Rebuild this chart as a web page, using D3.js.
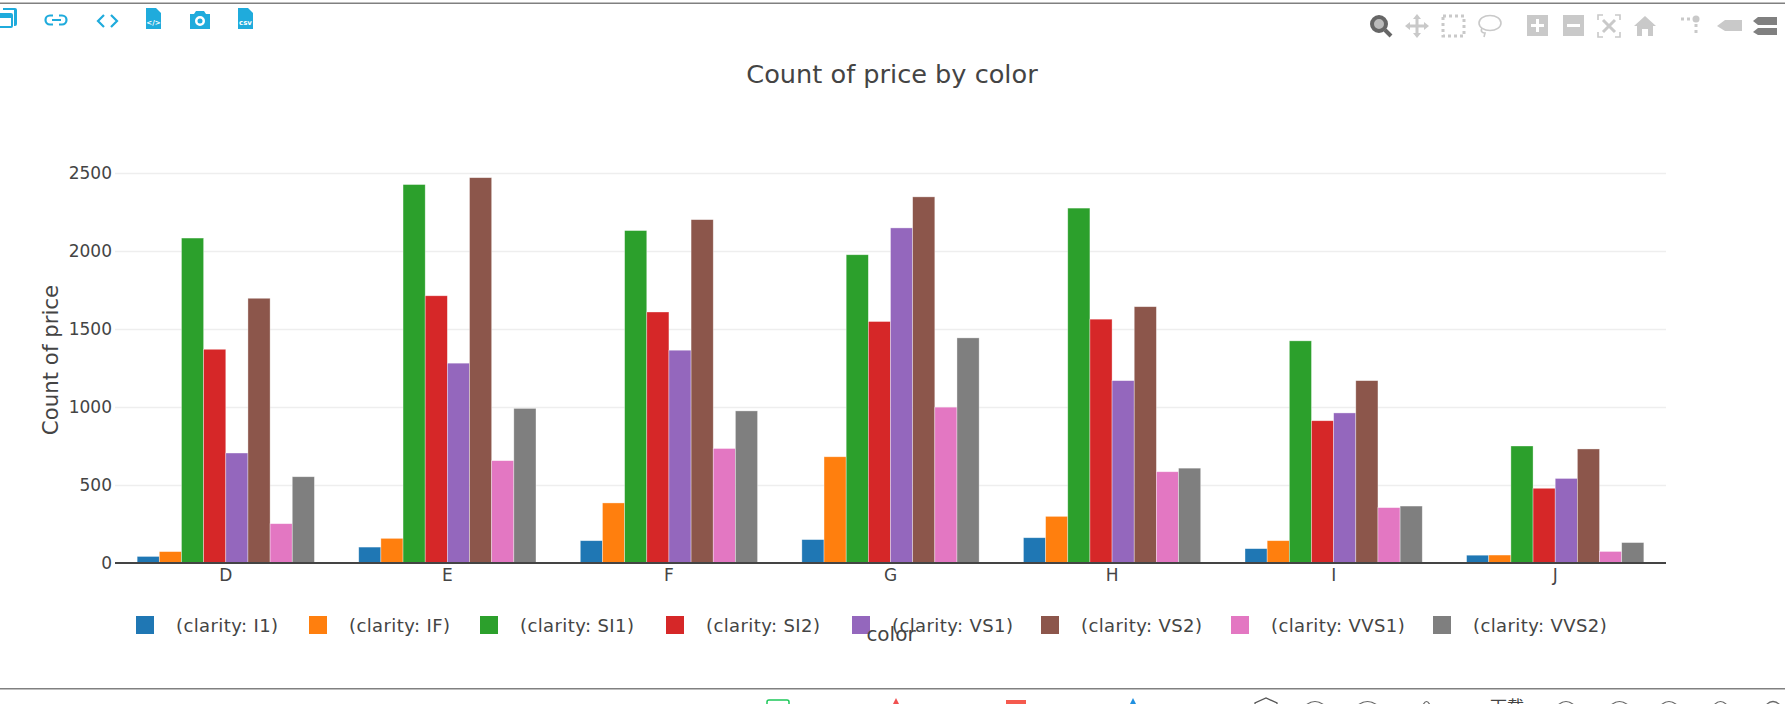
<!DOCTYPE html>
<html>
<head>
<meta charset="utf-8">
<script src="https://cdn.jsdelivr.net/npm/d3@7"></script>
<style>
    html, body { margin: 0; padding: 0; background: #fff; overflow: hidden; }
    text { font-family: "DejaVu Sans", Verdana, sans-serif; fill: #444; }
    .grid line { stroke: #eee; stroke-width: 1.3; }
    .grid path, .x-axis path { display: none; }
    .x-axis line { display: none; }
</style>
</head>
<body>
<svg id="chart" width="1785" height="704"></svg>
<script>
const colors = ['D', 'E', 'F', 'G', 'H', 'I', 'J'];
const clarities = ['I1', 'IF', 'SI1', 'SI2', 'VS1', 'VS2', 'VVS1', 'VVS2'];
const I1 = [42, 102, 143, 150, 162, 92, 50];
const IF = [73, 158, 385, 681, 299, 143, 51];
const SI1 = [2083, 2426, 2131, 1976, 2275, 1424, 750];
const SI2 = [1370, 1713, 1609, 1548, 1563, 912, 479];
const VS1 = [705, 1281, 1364, 2148, 1169, 962, 542];
const VS2 = [1697, 2470, 2201, 2347, 1643, 1169, 731];
const VVS1 = [252, 656, 734, 999, 585, 355, 74];
const VVS2 = [553, 991, 975, 1443, 608, 365, 131];
const yTicks = [0, 500, 1000, 1500, 2000, 2500];

const series = [I1, IF, SI1, SI2, VS1, VS2, VVS1, VVS2];
const palette = d3.schemeCategory10.slice(0, 8);

const margin = {top: 173, right: 119, bottom: 141, left: 115};
const width = 1785 - margin.left - margin.right;
const height = 704 - margin.top - margin.bottom;

const svg = d3.select('#chart');

// browser chrome around the screenshot
svg.append('rect').attr('x', 0).attr('y', 2.5).attr('width', 1785).attr('height', 1.5).attr('fill', '#808080');
svg.append('rect').attr('x', 0).attr('y', 688).attr('width', 1785).attr('height', 1.5).attr('fill', '#808080');

const chart = svg.append('g')
    .attr('transform', `translate(${margin.left}, ${margin.top})`);

const yScale = d3.scaleLinear()
    .range([height, 0])
    .domain([0, 2500]);

const xScale = d3.scaleBand()
    .range([0, width])
    .domain(colors)
    .paddingInner(0.2)
    .paddingOuter(0.1);

const groupScale = d3.scaleBand()
    .range([0, xScale.bandwidth()])
    .domain(clarities);

chart.append('g')
    .attr('class', 'grid')
    .call(d3.axisLeft(yScale).tickValues(yTicks).tickFormat(d3.format('d')).tickSize(-width).tickPadding(3))
    .selectAll('text')
    .style('font-size', '17px');

chart.selectAll('.grid .tick')
    .filter(d => d === 0)
    .select('line')
    .style('display', 'none');

clarities.forEach((c, i) => {
    chart.append('g')
        .selectAll('rect')
        .data(series[i])
        .enter()
        .append('rect')
        .attr('x', (d, j) => xScale(colors[j]) + groupScale(c))
        .attr('y', d => yScale(d))
        .attr('width', groupScale.bandwidth())
        .attr('height', d => height - yScale(d))
        .attr('fill', palette[i])
        .attr('stroke', 'rgba(255,255,255,0.5)')
        .attr('stroke-width', 0.7);
});

chart.append('g')
    .attr('class', 'x-axis')
    .attr('transform', `translate(0, ${height})`)
    .call(d3.axisBottom(xScale).tickSize(0).tickPadding(6))
    .selectAll('text')
    .style('font-size', '17px');

// zero line sits on top of the bars
chart.append('line')
    .attr('x1', 0).attr('x2', width)
    .attr('y1', yScale(0)).attr('y2', yScale(0))
    .attr('stroke', '#444')
    .attr('stroke-width', 2);

svg.append('text')
    .attr('x', 892).attr('y', 83)
    .attr('text-anchor', 'middle')
    .style('font-size', '25.6px')
    .text('Count of price by color');

svg.append('text')
    .attr('transform', 'translate(58, 360) rotate(-90)')
    .attr('text-anchor', 'middle')
    .style('font-size', '21.3px')
    .text('Count of price');

// legend, the x title overlaps it like in the original
const legendSwatchX = [136, 309, 480, 666, 852, 1041, 1231, 1433];
const legend = svg.append('g');
clarities.forEach((c, i) => {
    legend.append('rect')
        .attr('x', legendSwatchX[i]).attr('y', 616)
        .attr('width', 18).attr('height', 18)
        .attr('fill', palette[i]);
    legend.append('text')
        .attr('x', legendSwatchX[i] + 40).attr('y', 632)
        .style('font-size', '18px')
        .style('letter-spacing', '0.4px')
        .text(`(clarity: ${c})`);
});

svg.append('text')
    .attr('x', 891).attr('y', 641)
    .attr('text-anchor', 'middle')
    .style('font-size', '20px')
    .text('color');

// modebar, left side
const blue = '#1fabdc';
const leftBar = svg.append('g');
leftBar.append('path').attr('fill', blue)
    .attr('fill-rule', 'evenodd')
    .attr('d', 'M3 8h12a2 2 0 0 1 2 2v14a2 2 0 0 1-2 2h-1v-16h-11zM-2 13h13a2 2 0 0 1 2 2v11a2 2 0 0 1-2 2h-13zM0 18v8h11v-8z');
leftBar.append('path').attr('fill', 'none').attr('stroke', blue).attr('stroke-width', 2.2)
    .attr('d', 'M53 15.5h-3a4.5 4.5 0 0 0 0 9h3M59 15.5h3a4.5 4.5 0 0 1 0 9h-3M52 20h9');
leftBar.append('path').attr('fill', 'none').attr('stroke', blue).attr('stroke-width', 2.2)
    .attr('d', 'M104 15l-6 6 6 6M111 15l6 6-6 6');
[[146, '</>'], [238, 'csv']].forEach(([x, label]) => {
    leftBar.append('path').attr('fill', blue)
        .attr('d', `M${x} 8h10l5 5v16h-15z`);
    leftBar.append('text')
        .attr('x', x + 7.5).attr('y', 25)
        .attr('text-anchor', 'middle')
        .style('font-size', '7px').style('font-weight', 'bold').style('fill', '#fff')
        .text(label);
});
leftBar.append('path').attr('fill', blue).attr('fill-rule', 'evenodd')
    .attr('d', 'M190 14h4l2-3h8l2 3h4v15h-20zM200 16a5 5 0 1 0 0 10a5 5 0 0 0 0-10zM200 18.5a2.5 2.5 0 1 1 0 5a2.5 2.5 0 0 1 0-5z');

// modebar, right side
const grey = '#c9c9c9';
const rightBar = svg.append('g');
rightBar.append('circle').attr('cx', 1379).attr('cy', 24).attr('r', 7).attr('fill', '#bbb').attr('stroke', '#666').attr('stroke-width', 4);
rightBar.append('path').attr('stroke', '#666').attr('stroke-width', 4).attr('d', 'M1385 30l6 6');
rightBar.append('path').attr('fill', 'none').attr('stroke', grey).attr('stroke-width', 3)
    .attr('d', 'M1417 17v18M1408 26h18');
rightBar.append('path').attr('fill', grey)
    .attr('d', 'M1417 14l4 5h-8zM1417 38l4-5h-8zM1405 26l5-4v8zM1429 26l-5-4v8z');
rightBar.append('rect').attr('x', 1443).attr('y', 16).attr('width', 21).attr('height', 20)
    .attr('fill', 'none').attr('stroke', grey).attr('stroke-width', 3).attr('stroke-dasharray', '3 3');
rightBar.append('ellipse').attr('cx', 1490).attr('cy', 23).attr('rx', 11).attr('ry', 7.5)
    .attr('fill', 'none').attr('stroke', grey).attr('stroke-width', 1.6);
rightBar.append('path').attr('fill', 'none').attr('stroke', grey).attr('stroke-width', 1.6)
    .attr('d', 'M1482 28c-2 4 1 5 3 5l-1 4');
rightBar.append('path').attr('fill', grey).attr('fill-rule', 'evenodd')
    .attr('d', 'M1527 15h21v21h-21zM1536 19v5h-5v3h5v5h3v-5h5v-3h-5v-5z');
rightBar.append('path').attr('fill', grey).attr('fill-rule', 'evenodd')
    .attr('d', 'M1563 15h21v21h-21zM1567 24v3h13v-3z');
rightBar.append('path').attr('fill', 'none').attr('stroke', grey).attr('stroke-width', 1.6)
    .attr('d', 'M1598 20v-5h5M1615 15h5v5M1620 32v5h-5M1603 37h-5v-5');
rightBar.append('path').attr('fill', 'none').attr('stroke', grey).attr('stroke-width', 3)
    .attr('d', 'M1603 20l12 12M1615 20l-12 12');
rightBar.append('path').attr('fill', grey)
    .attr('d', 'M1645 16l11 10h-3v10h-5v-7h-6v7h-5v-10h-3z');
rightBar.append('circle').attr('cx', 1696).attr('cy', 19).attr('r', 3.5).attr('fill', grey);
rightBar.append('path').attr('stroke', grey).attr('stroke-width', 3).attr('stroke-dasharray', '3 3')
    .attr('d', 'M1681 19h11M1696 24v10');
rightBar.append('path').attr('fill', grey)
    .attr('d', 'M1717 26l8-6h17v11h-17z');
rightBar.append('path').attr('fill', '#808080')
    .attr('d', 'M1753 21l5-4h19v8h-19zM1753 32l5-4h19v7h-19z');

// clipped taskbar icons below the page, only their top edges are visible
const taskbar = svg.append('g');
taskbar.append('rect').attr('x', 767).attr('y', 700).attr('width', 22).attr('height', 10).attr('rx', 2)
    .attr('fill', 'none').attr('stroke', '#1ec85a').attr('stroke-width', 1.5);
taskbar.append('path').attr('fill', '#f05050').attr('d', 'M896 698l4 8h-8z');
taskbar.append('rect').attr('x', 1006).attr('y', 700).attr('width', 20).attr('height', 6).attr('fill', '#f55a4e');
taskbar.append('path').attr('fill', '#2090e0').attr('d', 'M1133 698l4 8h-8z');
taskbar.append('path').attr('fill', 'none').attr('stroke', '#555').attr('stroke-width', 1.3)
    .attr('d', 'M1255 705v-2l11-5 11 5v2');
[[1306, 1324], [1358, 1377], [1423, 1430], [1558, 1574], [1611, 1628], [1661, 1677], [1714, 1727], [1766, 1780]].forEach(([a, b]) => {
    taskbar.append('path').attr('fill', 'none').attr('stroke', '#666').attr('stroke-width', 1.2)
        .attr('d', `M${a} 705q${(b - a) / 2} -7 ${b - a} 0`);
});
svg.append('text')
    .attr('x', 1490).attr('y', 713)
    .style('font-family', '"Noto Sans CJK SC"').style('font-size', '17px')
    .text('下载');
</script>
</body>
</html>
